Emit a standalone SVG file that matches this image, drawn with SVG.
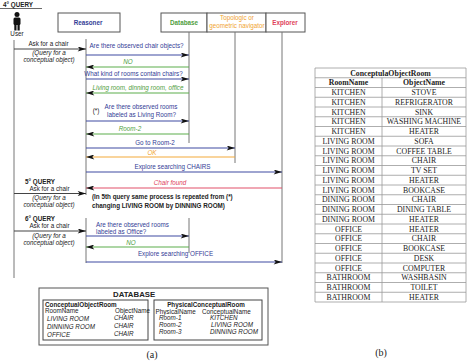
<svg xmlns="http://www.w3.org/2000/svg" width="474" height="364" viewBox="0 0 474 364">
<defs>
<style>
.s{font-family:"Liberation Sans",Arial,sans-serif;font-size:6.3px}
.c{text-anchor:middle}
.i{font-style:italic}
.b{font-weight:bold}
.blue{fill:#333d96}
.green{fill:#4f9e3e}
.orange{fill:#f0a431}
.red{fill:#e0405a}
.dark{fill:#222}
.box{fill:#fff;stroke:#555;stroke-width:1}
.life{stroke:#777;stroke-width:1}
.m{fill:none;stroke-width:1.1}
.mb{stroke:#3e4aa2}
.mg{stroke:#5cae4c}
.mo{stroke:#f3aa3a}
.mr{stroke:#e2506a}
.mk{stroke:#444}
.tb{font-family:"Liberation Serif","Times New Roman",serif;font-size:7.8px;fill:#222;text-anchor:middle}
.grid{stroke:#999;stroke-width:0.8;fill:none}
.cap{font-family:"Liberation Serif","Times New Roman",serif;font-size:10px;fill:#222;text-anchor:middle}
</style>
<marker id="ah" viewBox="0 0 10 6" refX="10" refY="3" markerWidth="9" markerHeight="5" orient="auto" markerUnits="userSpaceOnUse"><path d="M0,0 L10,3 L0,6 L2.5,3 z" fill="#111"/></marker>
</defs>
<rect width="474" height="364" fill="#fff"/>

<g id="title">
<text class="s b dark" x="3" y="6.5">4° QUERY</text>
<line x1="0" y1="8.5" x2="42" y2="8.5" stroke="#444" stroke-width="0.8"/>
</g>

<g id="user">
<circle cx="17" cy="14.5" r="2.5" fill="#111"/>
<rect x="13.5" y="17.5" width="7" height="7.5" rx="1.5" fill="#111"/>
<rect x="14.3" y="24" width="2.2" height="6.5" fill="#111"/>
<rect x="17.5" y="24" width="2.2" height="6.5" fill="#111"/>
<text class="s c dark" x="17" y="36">User</text>
<line class="life" x1="14" y1="40" x2="14" y2="278"/>
</g>

<g id="reasoner">
<rect class="box" x="58" y="13" width="62" height="19"/>
<text class="s c b blue" x="88" y="24.5">Reasoner</text>
<line class="life" x1="86" y1="39" x2="86" y2="195"/>
<line class="life" x1="86" y1="218" x2="86" y2="263"/>
</g>

<g id="database">
<rect class="box" x="161" y="13" width="46" height="19"/>
<text class="s c b green" x="184" y="24.5">Database</text>
<line class="life" x1="189" y1="32" x2="189" y2="143"/>
<line class="life" x1="189" y1="218" x2="189" y2="253"/>
</g>

<g id="navigator">
<rect class="box" x="207" y="13" width="59" height="19"/>
<text class="s c orange" x="237" y="20">Topologic or</text>
<text class="s c orange" x="237" y="28">geometric navigator</text>
<line class="life" x1="235" y1="32" x2="235" y2="163"/>
</g>

<g id="explorer">
<rect class="box" x="266" y="13" width="39" height="19"/>
<text class="s c b red" x="285" y="24.5">Explorer</text>
<line class="life" x1="282" y1="32" x2="282" y2="263"/>
</g>

<g id="connectors">
<line class="m mk" x1="14" y1="49" x2="86" y2="49" marker-end="url(#ah)"/>
<line class="m mb" x1="86" y1="55" x2="189" y2="55" marker-end="url(#ah)"/>
<line class="m mg" x1="189" y1="67" x2="86" y2="67" marker-end="url(#ah)"/>
<line class="m mb" x1="86" y1="79" x2="189" y2="79" marker-end="url(#ah)"/>
<line class="m mg" x1="189" y1="93" x2="86" y2="93" marker-end="url(#ah)"/>
<line class="m mb" x1="86" y1="121" x2="189" y2="121" marker-end="url(#ah)"/>
<line class="m mg" x1="189" y1="134" x2="86" y2="134" marker-end="url(#ah)"/>
<line class="m mb" x1="86" y1="148" x2="235" y2="148" marker-end="url(#ah)"/>
<line class="m mo" x1="235" y1="157" x2="86" y2="157" marker-end="url(#ah)"/>
<line class="m mb" x1="86" y1="172" x2="282" y2="172" marker-end="url(#ah)"/>
<line class="m mr" x1="282" y1="188" x2="86" y2="188" marker-end="url(#ah)"/>
<line class="m mk" x1="14" y1="193.5" x2="86" y2="193.5" marker-end="url(#ah)"/>
<line class="m mk" x1="14" y1="231" x2="86" y2="231" marker-end="url(#ah)"/>
<line class="m mb" x1="86" y1="236" x2="189" y2="236" marker-end="url(#ah)"/>
<line class="m mg" x1="189" y1="247" x2="86" y2="247" marker-end="url(#ah)"/>
<line class="m mb" x1="86" y1="262" x2="282" y2="262" marker-end="url(#ah)"/>
</g>

<g id="labels">
<text class="s c dark" x="48.5" y="46">Ask for a chair</text>
<text class="s c i dark" x="49" y="55">(Query for a</text>
<text class="s c i dark" x="49" y="62">conceptual object)</text>
<text class="s c blue" x="136.5" y="48">Are there observed chair objects?</text>
<text class="s c i green" x="128" y="64">NO</text>
<text class="s c blue" x="133.5" y="75.5">What kind of rooms contain chairs?</text>
<text class="s c i green" x="138" y="89.5">Living room, dinning room, office</text>
<text class="s c dark" x="96" y="113">(*)</text>
<text class="s c blue" x="141" y="109">Are there observed rooms</text>
<text class="s c blue" x="141.5" y="116.5">labeled as Living Room?</text>
<text class="s c i green" x="130" y="131">Room-2</text>
<text class="s c blue" x="155" y="145">Go to Room-2</text>
<text class="s c i orange" x="152" y="154.5">OK</text>
<text class="s c blue" x="172.5" y="169">Explore searching CHAIRS</text>
<text class="s c i red" x="170" y="184.5">Chair found</text>

<text class="s b dark" x="25" y="184">5° QUERY</text>
<text class="s c dark" x="49.5" y="191">Ask for a chair</text>
<text class="s c i dark" x="49" y="200">(Query for a</text>
<text class="s c i dark" x="49" y="207">conceptual object)</text>
<text class="s b dark" x="92" y="199">(In 5th query same process is repeated from (*)</text>
<text class="s b dark" x="92" y="208">changing LIVING ROOM by DINNING ROOM)</text>

<text class="s b dark" x="25" y="221">6° QUERY</text>
<text class="s c dark" x="49.5" y="228">Ask for a chair</text>
<text class="s c i dark" x="49" y="237.5">(Query for a</text>
<text class="s c i dark" x="49" y="245">conceptual object)</text>
<text class="s blue" x="96" y="227">Are there observed rooms</text>
<text class="s blue" x="96" y="234">labeled as Office?</text>
<text class="s c i green" x="131" y="245">NO</text>
<text class="s c blue" x="175.5" y="256">Explore searching OFFICE</text>
</g>

<g id="db-box">
<rect x="39" y="288" width="229" height="57" fill="#fff" stroke="#555" stroke-width="1"/>
<text class="s b dark" x="113" y="296.5" style="font-size:7.8px">DATABASE</text>
<rect x="43" y="300" width="105" height="40" fill="none" stroke="#444" stroke-width="1"/>
<text class="s b dark" x="45" y="306.5">ConceptualObjectRoom</text>
<text class="s dark" x="45" y="312.5">RoomName</text>
<text class="s dark" x="115" y="312.5">ObjectName</text>
<text class="s i dark" x="47" y="320.5">LIVING ROOM</text>
<text class="s i dark" x="47" y="328.5">DINNING ROOM</text>
<text class="s i dark" x="47" y="336.5">OFFICE</text>
<text class="s i dark" x="114" y="320">CHAIR</text>
<text class="s i dark" x="114" y="328">CHAIR</text>
<text class="s i dark" x="114" y="336">CHAIR</text>
<rect x="154" y="300" width="108" height="40" fill="none" stroke="#444" stroke-width="1"/>
<text class="s c b dark" x="206" y="307">PhysicalConceptualRoom</text>
<text class="s dark" x="155.5" y="313.5">PhysicalName</text>
<text class="s dark" x="202" y="313.5">ConceptualName</text>
<text class="s i dark" x="159" y="320">Room-1</text>
<text class="s i dark" x="159" y="327">Room-2</text>
<text class="s i dark" x="159" y="334">Room-3</text>
<text class="s i dark" x="210" y="320">KITCHEN</text>
<text class="s i dark" x="211" y="327">LIVING ROOM</text>
<text class="s i dark" x="210" y="334">DINNING ROOM</text>
</g>
<text class="cap" x="152" y="358">(a)</text>

<g id="table">
<path class="grid" d="M315,68H466M315,77.75H466M315,87.5H466M315,97.25H466M315,107H466M315,116.75H466M315,126.5H466M315,136.25H466M315,146H466M315,155.75H466M315,165.5H466M315,175.25H466M315,185H466M315,194.75H466M315,204.5H466M315,214.25H466M315,224H466M315,233.75H466M315,243.5H466M315,253.25H466M315,263H466M315,272.75H466M315,282.5H466M315,292.25H466M315,302H466M315,68V302M466,68V302M382,77.75V302"/>
<text class="tb b" x="390.5" y="75.5">ConceptulaObjectRoom</text>
<text class="tb b" x="348.5" y="85.25">RoomName</text><text class="tb b" x="424" y="85.25">ObjectName</text>
<text class="tb" x="348.5" y="95">KITCHEN</text><text class="tb" x="424" y="95">STOVE</text>
<text class="tb" x="348.5" y="104.75">KITCHEN</text><text class="tb" x="424" y="104.75">REFRIGERATOR</text>
<text class="tb" x="348.5" y="114.5">KITCHEN</text><text class="tb" x="424" y="114.5">SINK</text>
<text class="tb" x="348.5" y="124.25">KITCHEN</text><text class="tb" x="424" y="124.25">WASHING MACHINE</text>
<text class="tb" x="348.5" y="134">KITCHEN</text><text class="tb" x="424" y="134">HEATER</text>
<text class="tb" x="348.5" y="143.75">LIVING ROOM</text><text class="tb" x="424" y="143.75">SOFA</text>
<text class="tb" x="348.5" y="153.5">LIVING ROOM</text><text class="tb" x="424" y="153.5">COFFEE TABLE</text>
<text class="tb" x="348.5" y="163.25">LIVING ROOM</text><text class="tb" x="424" y="163.25">CHAIR</text>
<text class="tb" x="348.5" y="173">LIVING ROOM</text><text class="tb" x="424" y="173">TV SET</text>
<text class="tb" x="348.5" y="182.75">LIVING ROOM</text><text class="tb" x="424" y="182.75">HEATER</text>
<text class="tb" x="348.5" y="192.5">LIVING ROOM</text><text class="tb" x="424" y="192.5">BOOKCASE</text>
<text class="tb" x="348.5" y="202.25">DINING ROOM</text><text class="tb" x="424" y="202.25">CHAIR</text>
<text class="tb" x="348.5" y="212">DINING ROOM</text><text class="tb" x="424" y="212">DINING TABLE</text>
<text class="tb" x="348.5" y="221.75">DINING ROOM</text><text class="tb" x="424" y="221.75">HEATER</text>
<text class="tb" x="348.5" y="231.5">OFFICE</text><text class="tb" x="424" y="231.5">HEATER</text>
<text class="tb" x="348.5" y="241.25">OFFICE</text><text class="tb" x="424" y="241.25">CHAIR</text>
<text class="tb" x="348.5" y="251">OFFICE</text><text class="tb" x="424" y="251">BOOKCASE</text>
<text class="tb" x="348.5" y="260.75">OFFICE</text><text class="tb" x="424" y="260.75">DESK</text>
<text class="tb" x="348.5" y="270.5">OFFICE</text><text class="tb" x="424" y="270.5">COMPUTER</text>
<text class="tb" x="348.5" y="280.25">BATHROOM</text><text class="tb" x="424" y="280.25">WASHBASIN</text>
<text class="tb" x="348.5" y="290">BATHROOM</text><text class="tb" x="424" y="290">TOILET</text>
<text class="tb" x="348.5" y="299.75">BATHROOM</text><text class="tb" x="424" y="299.75">HEATER</text>
</g>
<text class="cap" x="381" y="356">(b)</text>
</svg>
